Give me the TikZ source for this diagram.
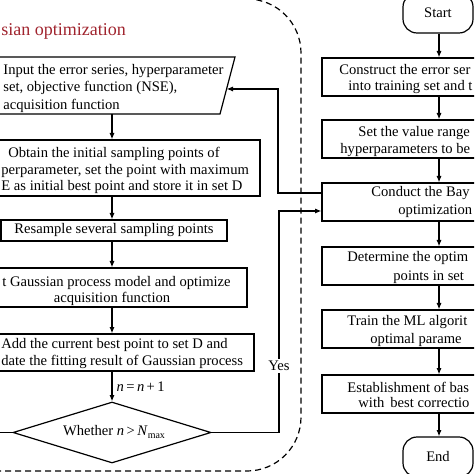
\documentclass[tikz,border=0pt]{standalone}
\usepackage{fontspec}
\setmainfont{Liberation Serif}
\usetikzlibrary{arrows.meta,shapes.geometric}
\definecolor{titlered}{RGB}{160,36,46}
\begin{document}
\begin{tikzpicture}[x=0.5pt,y=-0.5pt,
  box/.style={draw,line width=0.6pt,rectangle,inner sep=0pt,font=\fontsize{7.3}{8.75}\selectfont},
  txt/.style={font=\fontsize{7.3}{8.75}\selectfont,inner sep=0pt},
  arr/.style={line width=0.6pt,-{Latex[length=3.2pt,width=2.6pt]}},
  con/.style={line width=0.6pt},
  term/.style={draw,line width=0.6pt,rounded corners=7pt,inner sep=0pt,font=\fontsize{7.3}{8.75}\selectfont}]
\useasboundingbox (0,0) rectangle (474,474);
\clip (0,0) rectangle (474,474);

% dashed frame
\draw[line width=0.6pt,dash pattern=on 3pt off 2pt,rounded corners=27pt] (-60,-1) rectangle (301,471);
\node[font=\fontsize{9}{10}\selectfont,text=titlered,anchor=west,inner sep=0pt] (title) at (1,31) {sian optimization};

% left column
\draw[con] (-40,57) -- (235,57) -- (220,114) -- (-55,114) -- cycle;
\coordinate (inpS) at (112,114);
\coordinate (inpE) at (226.6,89);
\node[txt,anchor=west,align=left] (tinp) at (3,88) {Input the error series, hyperparameter\\set, objective function (NSE),\\acquisition function};

\node[box,minimum width=148pt,minimum height=28pt] (b2) at (112,168) {};
\node[txt,anchor=east] (t2a) at (220,154) {Obtain the initial sampling points of};
\node[txt,anchor=west] (t2b) at (1,171) {perparameter, set the point with maximum};
\node[txt,anchor=west] (t2c) at (1,187) {E as initial best point and store it in set D};

\node[box,minimum width=113pt,minimum height=10.5pt] (b3) at (114,230.5) {Resample several sampling points};

\node[box,minimum width=135pt,minimum height=19.5pt] (b4) at (112,287.5) {};
\node[txt,anchor=west] (t4a) at (2,283) {t Gaussian process model and optimize};
\node[txt] (t4b) at (112,299) {acquisition function};

\node[box,minimum width=142pt,minimum height=18.5pt] (b5) at (112,352.5) {};
\node[txt,anchor=west] (t5a) at (1,345) {Add the current best point to set D and};
\node[txt,anchor=west] (t5b) at (1,362) {date the fitting result of Gaussian process};

\node[draw,diamond,line width=0.6pt,inner sep=0pt,minimum width=99pt,minimum height=30.5pt] (dia) at (112,432.5) {};
\node[txt] (tdia) at (114,432) {Whether \textit{n}\,>\,\textit{N}\raisebox{-0.5ex}{\fontsize{5}{5}\selectfont max}};
\coordinate (diaW) at (-10,432.5);

\draw[arr] (inpS) -- (b2.north);
\draw[arr] (b2.south) -- (b2.south |- b3.north);
\draw[arr] (b3.south -| b4.north) -- (b4.north);
\draw[arr] (b4.south) -- (b5.north);
\draw[arr] (b5.south) -- node[txt,anchor=west,xshift=2pt] (tinc) {\textit{n}\,=\,\textit{n}\,+\,1} (dia.north);
\draw[con] (dia.west) -- (diaW);

% right column
\node[term,minimum width=35pt,minimum height=20pt] (start) at (438,13) {Start};
\node[box,minimum width=117pt,minimum height=19pt] (r1) at (439,77) {};
\node[box,minimum width=117pt,minimum height=19pt] (r2) at (439,139) {};
\node[box,minimum width=117pt,minimum height=19pt] (r3) at (439,202) {};
\node[box,minimum width=117pt,minimum height=19pt] (r4) at (439,266) {};
\node[box,minimum width=117pt,minimum height=19pt] (r5) at (439,329) {};
\node[box,minimum width=117pt,minimum height=19pt] (r6) at (439,394) {};
\node[term,minimum width=35pt,minimum height=20pt] (end) at (438,457) {End};

\node[txt,anchor=west] (t6a) at (339,70) {Construct the error ser};
\node[txt,anchor=west] (t6b) at (348,87) {into training set and t};
\node[txt,anchor=west] (t7a) at (358,133) {Set the value range};
\node[txt,anchor=west] (t7b) at (340,150) {hyperparameters to be};
\node[txt,anchor=west] (t8a) at (371,193) {Conduct the Bay};
\node[txt,anchor=west] (t8b) at (398,211) {optimization};
\node[txt,anchor=west] (t9a) at (347,258) {Determine the optim};
\node[txt,anchor=west] (t9b) at (393,277) {points in set};
\node[txt,anchor=west] (t10a) at (347,322) {Train the ML algorit};
\node[txt,anchor=west] (t10b) at (370,340) {optimal parame};
\node[txt,anchor=west] (t11a) at (347,387) {Establishment of bas};
\node[txt,anchor=west] (t11b) at (358,403) {with\, best correctio};

\draw[arr] (start.south -| r1.north) -- (r1.north);
\draw[arr] (r1.south) -- (r2.north);
\draw[arr] (r2.south) -- (r3.north);
\draw[arr] (r3.south) -- (r4.north);
\draw[arr] (r4.south) -- (r5.north);
\draw[arr] (r5.south) -- (r6.north);
\draw[arr] (r6.south) -- (r6.south |- end.north);

% cross connectors
\draw[arr] ([yshift=4.5pt]r3.west) -| (278,89) -- (inpE);
\draw[arr] (dia.east) -| (279,211) -- ([yshift=-4.5pt]r3.west);
\node[txt,fill=white,inner sep=1pt] (yes) at (279,366) {Yes};
\end{tikzpicture}
\end{document}
